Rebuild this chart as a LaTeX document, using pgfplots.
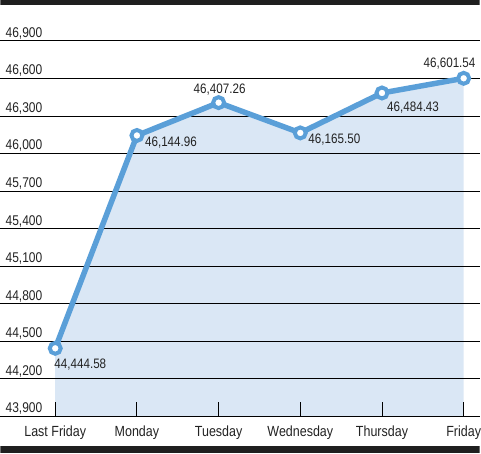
\documentclass[border=0pt]{standalone}
\usepackage{fontspec}
\setmainfont[FakeStretch=0.85]{Liberation Sans}
\usepackage{pgfplots}
\pgfplotsset{compat=1.18}
\definecolor{lineblue}{HTML}{5A9FD8}
\definecolor{fillblue}{HTML}{DAE7F5}
\definecolor{txt}{HTML}{222222}
\begin{document}
\begin{tikzpicture}
\begin{axis}[
  set layers,
  width=481bp, height=455bp, scale only axis,
  xmin=-0.6707, xmax=5.1951,
  ymin=43605.6, ymax=47226.3,
  axis line style={draw=none},
  major tick length=0pt,
  xtick={0,...,5},
  xticklabels={Last Friday,Monday,Tuesday,Wednesday,Thursday,Friday},
  ytick={43900,44200,...,46900},
  scaled y ticks=false,
  ymajorgrids,
  grid style={black, line width=0.9pt},
  yticklabel style={anchor=base west, inner sep=0pt, xshift=5bp, yshift=3.7bp,
     font=\fontsize{14.2}{16}\selectfont, text=txt,
     /pgf/number format/.cd, 1000 sep={,}, assume math mode=true},
  xticklabel style={anchor=base, inner sep=0pt, yshift=16.7bp,
     font=\fontsize{14.8}{17}\selectfont, text=txt},
]
\addplot[draw=none, fill=fillblue, on layer=axis background] coordinates {
  (0,43900) (0,44444.58) (1,46144.96) (2,46407.26) (3,46165.50) (4,46484.43) (5,46601.54) (5,43900)
} -- cycle;
\pgfplotsinvokeforeach{0,...,5}{
  \draw[black, line width=0.9pt] (axis cs:#1,43900) -- (axis cs:#1,44019);
}
\addplot[lineblue, line width=5.5bp, mark=*, mark size=5.5bp,
  mark options={fill=white, draw=lineblue, line width=4bp, solid}] coordinates {
  (0,44444.58) (1,46144.96) (2,46407.26) (3,46165.50) (4,46484.43) (5,46601.54)
};
\begin{scope}[every node/.style={inner sep=0pt, text=txt, font=\fontsize{13.8}{16}\selectfont}]
\node[anchor=north west, xshift=-1bp, yshift=-10.5bp] at (axis cs:0,44444.58) {44,444.58};
\node[anchor=north west, xshift=8bp, yshift=-1bp] at (axis cs:1,46144.96) {46,144.96};
\node[anchor=base, xshift=1bp, yshift=9.5bp] at (axis cs:2,46407.26) {46,407.26};
\node[anchor=north west, xshift=8bp, yshift=-1bp] at (axis cs:3,46165.50) {46,165.50};
\node[anchor=north west, xshift=5bp, yshift=-9bp] at (axis cs:4,46484.43) {46,484.43};
\node[anchor=base east, xshift=12bp, yshift=10.5bp] at (axis cs:5,46601.54) {46,601.54};
\end{scope}
\fill[black!88] (rel axis cs:0,0) rectangle (rel axis cs:1,0.0154);
\fill[black!88] (rel axis cs:0,1) rectangle (rel axis cs:1,0.990);
\end{axis}
\end{tikzpicture}
\end{document}
